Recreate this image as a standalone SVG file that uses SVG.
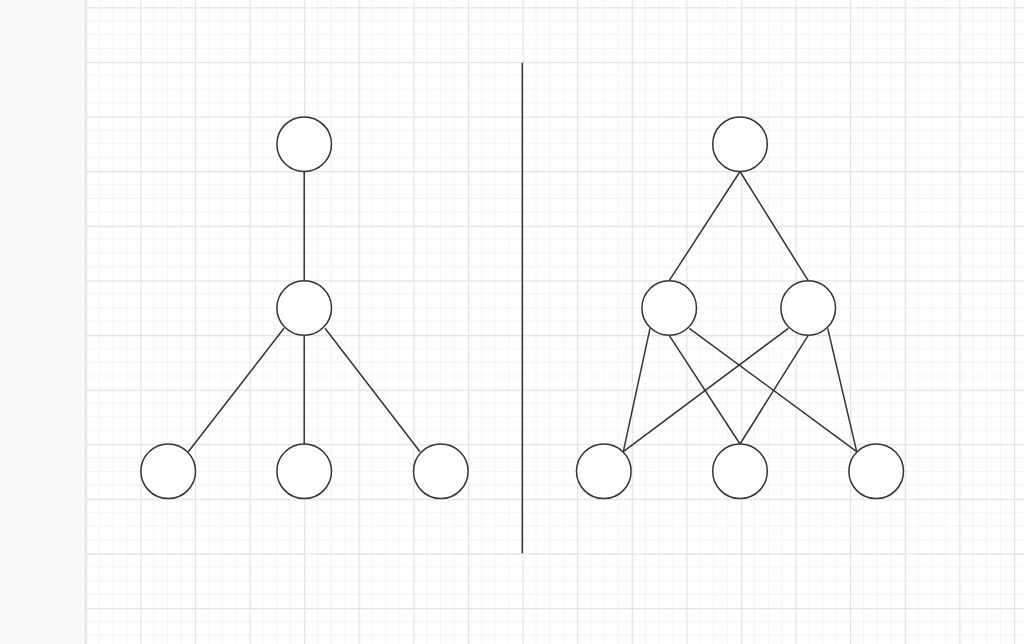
<svg xmlns="http://www.w3.org/2000/svg" width="1024" height="644" viewBox="0 0 1024 644">
  <defs>
    <pattern id="grid" x="85.7" y="7.3" width="54.6" height="54.6" patternUnits="userSpaceOnUse">
      <rect width="54.6" height="54.6" fill="#ffffff"/>
      <path d="M13.65 0V54.6M27.3 0V54.6M40.95 0V54.6M0 13.65H54.6M0 27.3H54.6M0 40.95H54.6" stroke="#f4f4f4" stroke-width="1" fill="none"/>
      <path d="M0.6 0V54.6M0 0.6H54.6" stroke="#e2e2e2" stroke-width="1.2" fill="none"/>
    </pattern>
    <style>
      .node { fill: #ffffff; stroke: #333333; stroke-width: 1.5; }
      .edge { stroke: #333333; stroke-width: 1.5; fill: none; }
    </style>
  </defs>
  <rect x="0" y="0" width="1024" height="644" fill="url(#grid)"/>
  <rect x="0" y="0" width="85" height="644" fill="#f9f9f9"/>
  <line x1="85.5" y1="0" x2="85.5" y2="644" stroke="#e4e4e4" stroke-width="1.5"/>

  <g id="connectors">
    <line class="edge" x1="304.2" y1="171.5" x2="304.2" y2="280.7"/>
    <line class="edge" x1="284" y1="328.3" x2="188.3" y2="451.7"/>
    <line class="edge" x1="304.2" y1="335.3" x2="304.2" y2="444"/>
    <line class="edge" x1="325" y1="328.3" x2="420" y2="451.7"/>
    <line class="edge" x1="522.3" y1="62.7" x2="522.3" y2="553.3"/>
    <line class="edge" x1="740" y1="171.5" x2="669.2" y2="280.7"/>
    <line class="edge" x1="740" y1="171.5" x2="808.2" y2="280.7"/>
    <line class="edge" x1="650" y1="328.3" x2="623.3" y2="451.7"/>
    <line class="edge" x1="669.2" y1="335.3" x2="740" y2="444"/>
    <line class="edge" x1="689.3" y1="328.3" x2="856.7" y2="451.7"/>
    <line class="edge" x1="788.3" y1="328.3" x2="623.3" y2="451.7"/>
    <line class="edge" x1="808.2" y1="335.3" x2="740" y2="444"/>
    <line class="edge" x1="827.7" y1="328.3" x2="856.7" y2="451.7"/>
  </g>

  <g id="L-top"><circle class="node" cx="304.2" cy="144.2" r="27.3"/></g>
  <g id="L-mid"><circle class="node" cx="304.2" cy="308" r="27.3"/></g>
  <g id="L-b1"><circle class="node" cx="168.2" cy="471.3" r="27.3"/></g>
  <g id="L-b2"><circle class="node" cx="304.2" cy="471.3" r="27.3"/></g>
  <g id="L-b3"><circle class="node" cx="440.8" cy="471.3" r="27.3"/></g>

  <g id="R-top"><circle class="node" cx="740" cy="144.2" r="27.3"/></g>
  <g id="R-m1"><circle class="node" cx="669.2" cy="308" r="27.3"/></g>
  <g id="R-m2"><circle class="node" cx="808.2" cy="308" r="27.3"/></g>
  <g id="R-b1"><circle class="node" cx="603.8" cy="471.3" r="27.3"/></g>
  <g id="R-b2"><circle class="node" cx="740" cy="471.3" r="27.3"/></g>
  <g id="R-b3"><circle class="node" cx="876.2" cy="471.3" r="27.3"/></g>
</svg>
